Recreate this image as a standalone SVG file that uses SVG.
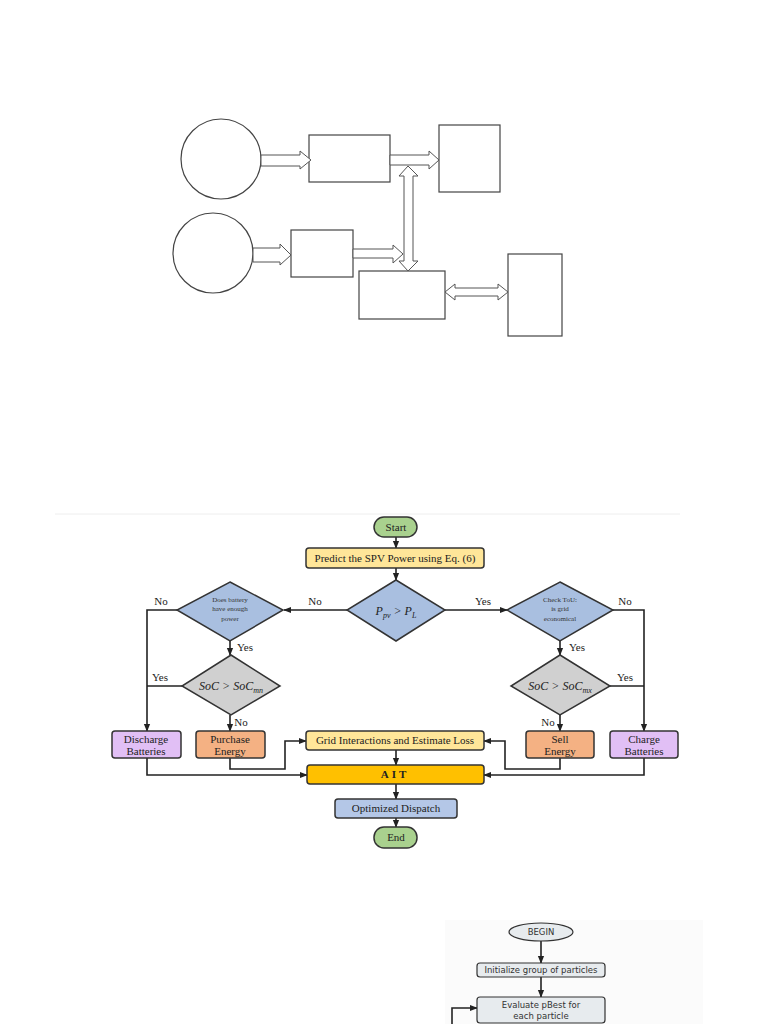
<svg xmlns="http://www.w3.org/2000/svg" width="768" height="1024" viewBox="0 0 768 1024">
<style>
.o{fill:#fff;stroke:#444;stroke-width:1.2}
.b{fill:#fff;stroke:#555;stroke-width:1}
.fl{stroke:#222;stroke-width:1.6;fill:none}
.n{stroke:#333;stroke-width:1.5}
.t{font-family:"Liberation Serif",serif;font-size:11px;fill:#222;text-anchor:middle}
.s{font-family:"Liberation Serif",serif;font-size:7px;fill:#333;text-anchor:middle}
.m{font-family:"Liberation Serif",serif;font-style:italic;font-size:12px;fill:#222;text-anchor:middle}
.p{font-family:"DejaVu Sans",sans-serif;font-size:8.5px;fill:#333;text-anchor:middle}
</style>
<defs>
<marker id="a" viewBox="0 0 10 10" refX="9" refY="5" markerWidth="5" markerHeight="5" orient="auto"><path d="M0,1 L10,5 L0,9z" fill="#222"/></marker>
</defs>
<rect width="768" height="1024" fill="#fff"/>
<!-- top block diagram -->
<g id="c1"><circle class="o" cx="221" cy="159" r="40"/></g>
<g id="c2"><circle class="o" cx="213" cy="253" r="40"/></g>
<g id="r1"><rect class="o" x="309" y="135" width="81" height="47"/></g>
<g id="r2"><rect class="o" x="439" y="125" width="61" height="67"/></g>
<g id="r3"><rect class="o" x="291" y="230" width="62" height="47"/></g>
<g id="r4"><rect class="o" x="359" y="271" width="86" height="48"/></g>
<g id="r5"><rect class="o" x="508" y="254" width="54" height="82"/></g>
<g id="blockarrows">
<path class="b" d="M261,155 H300 V151 L311,160 L300,169 V166 H261z"/>
<path class="b" d="M390,155 H429 V151 L439,160 L429,169 V165 H390z"/>
<path class="b" d="M253,248 H280 V244 L291,255 L280,265 V262 H253z"/>
<path class="b" d="M353,249 H393 V245 L403,254 L393,263 V258 H353z"/>
<path class="b" d="M404,176 L399,176 L408,166 L418,176 L413,176 V261 L418,261 L408,271 L399,261 L404,261z"/>
<path class="b" d="M455,288 V284 L445,292 L455,300 V296 H498 V300 L508,292 L498,284 V288z"/>
</g>
<!-- flowchart -->
<line x1="55" y1="514" x2="680" y2="514" stroke="#eee" stroke-width="1"/>
<g id="connectors">
<path class="fl" d="M396,537 V548" marker-end="url(#a)"/>
<path class="fl" d="M396,568 V580" marker-end="url(#a)"/>
<path class="fl" d="M347,610 H284" marker-end="url(#a)"/>
<path class="fl" d="M445,610 H507" marker-end="url(#a)"/>
<path class="fl" d="M230,641 V655" marker-end="url(#a)"/>
<path class="fl" d="M560,641 V655" marker-end="url(#a)"/>
<path class="fl" d="M230,715 V731" marker-end="url(#a)"/>
<path class="fl" d="M560,715 V731" marker-end="url(#a)"/>
<path class="fl" d="M177,610 H147 V731" marker-end="url(#a)"/>
<path class="fl" d="M182,686 H147"/>
<path class="fl" d="M613,610 H644 V731" marker-end="url(#a)"/>
<path class="fl" d="M610,686 H644"/>
<path class="fl" d="M147,758 V775 H307" marker-end="url(#a)"/>
<path class="fl" d="M644,758 V775 H484" marker-end="url(#a)"/>
<path class="fl" d="M230,758 V769 H285 V741 H306" marker-end="url(#a)"/>
<path class="fl" d="M560,758 V769 H505 V741 H484" marker-end="url(#a)"/>
<path class="fl" d="M396,750 V765" marker-end="url(#a)"/>
<path class="fl" d="M396,784 V799" marker-end="url(#a)"/>
<path class="fl" d="M396,818 V827" marker-end="url(#a)"/>
</g>
<g id="start"><rect class="n" x="374" y="517" width="43" height="20" rx="10" fill="#a9d18e"/><text class="t" x="396" y="531">Start</text></g>
<g id="predict"><rect class="n" x="306" y="548" width="178" height="20" rx="3" fill="#ffe699"/><text class="t" x="395" y="562">Predict the SPV Power using Eq. (6)</text></g>
<g id="d0"><path class="n" d="M396,580 L445,610 L396,641 L347,610z" fill="#a9bfe0"/><text class="m" x="396" y="615">P<tspan font-size="8" dy="3">pv</tspan><tspan dy="-3"> &gt; P</tspan><tspan font-size="8" dy="3">L</tspan></text></g>
<g id="d1"><path class="n" d="M230,582 L283,610 L230,641 L177,610z" fill="#a9bfe0"/><text class="s" x="230" y="602">Does battery</text><text class="s" x="230" y="611">have enough</text><text class="s" x="230" y="621">power</text></g>
<g id="d2"><path class="n" d="M560,582 L613,610 L560,641 L507,610z" fill="#a9bfe0"/><text class="s" x="560" y="602">Check ToU:</text><text class="s" x="560" y="611">is grid</text><text class="s" x="560" y="621">economical</text></g>
<g id="d3"><path class="n" d="M231,655 L280,686 L231,715 L182,686z" fill="#d0d0d0"/><text class="m" x="231" y="690">SoC &gt; SoC<tspan font-size="8" dy="3">mn</tspan></text></g>
<g id="d4"><path class="n" d="M560,655 L610,686 L560,715 L511,686z" fill="#d0d0d0"/><text class="m" x="560" y="690">SoC &gt; SoC<tspan font-size="8" dy="3">mx</tspan></text></g>
<g id="discharge"><rect class="n" x="112" y="731" width="69" height="27" rx="3" fill="#e1bff5"/><text class="t" x="146" y="743">Discharge</text><text class="t" x="146" y="755">Batteries</text></g>
<g id="purchase"><rect class="n" x="196" y="731" width="69" height="27" rx="3" fill="#f4b183"/><text class="t" x="230" y="743">Purchase</text><text class="t" x="230" y="755">Energy</text></g>
<g id="grid"><rect class="n" x="306" y="731" width="178" height="19" rx="3" fill="#ffe699"/><text class="t" x="395" y="744">Grid Interactions and Estimate Loss</text></g>
<g id="sell"><rect class="n" x="526" y="731" width="68" height="27" rx="3" fill="#f4b183"/><text class="t" x="560" y="743">Sell</text><text class="t" x="560" y="755">Energy</text></g>
<g id="charge"><rect class="n" x="610" y="731" width="68" height="27" rx="3" fill="#e1bff5"/><text class="t" x="644" y="743">Charge</text><text class="t" x="644" y="755">Batteries</text></g>
<g id="ait"><rect class="n" x="307" y="765" width="177" height="19" rx="3" fill="#ffc000"/><text class="t" x="395" y="778" font-weight="bold" letter-spacing="3">AIT</text></g>
<g id="opt"><rect class="n" x="335" y="799" width="122" height="19" rx="3" fill="#b4c7e7"/><text class="t" x="396" y="812">Optimized Dispatch</text></g>
<g id="end"><rect class="n" x="374" y="827" width="43" height="21" rx="10" fill="#a9d18e"/><text class="t" x="396" y="841">End</text></g>
<g id="labels">
<text class="t" x="161" y="605">No</text>
<text class="t" x="315" y="605">No</text>
<text class="t" x="483" y="605">Yes</text>
<text class="t" x="625" y="605">No</text>
<text class="t" x="245" y="651">Yes</text>
<text class="t" x="577" y="651">Yes</text>
<text class="t" x="160" y="681">Yes</text>
<text class="t" x="625" y="681">Yes</text>
<text class="t" x="241" y="726">No</text>
<text class="t" x="548" y="726">No</text>
</g>
<!-- PSO -->
<rect x="445" y="920" width="258" height="104" fill="#fbfbfb"/>
<g id="pso-conn">
<path class="fl" stroke-width="1.2" d="M541,941 V963" marker-end="url(#a)"/>
<path class="fl" stroke-width="1.2" d="M541,977 V997" marker-end="url(#a)"/>
<path class="fl" stroke-width="1.2" d="M452,1024 V1008 H477" marker-end="url(#a)"/>
</g>
<g id="begin"><ellipse cx="541" cy="932" rx="32" ry="9" fill="#e7ebee" stroke="#333" stroke-width="1.2"/><text class="p" x="541" y="935">BEGIN</text></g>
<g id="init"><rect x="477" y="963" width="128" height="14" rx="3" fill="#e7ebee" stroke="#333" stroke-width="1.2"/><text class="p" x="541" y="973">Initialize group of particles</text></g>
<g id="eval"><rect x="477" y="997" width="128" height="26" rx="3" fill="#e7ebee" stroke="#333" stroke-width="1.2"/><text class="p" x="541" y="1008">Evaluate pBest for</text><text class="p" x="541" y="1019">each particle</text></g>
</svg>
